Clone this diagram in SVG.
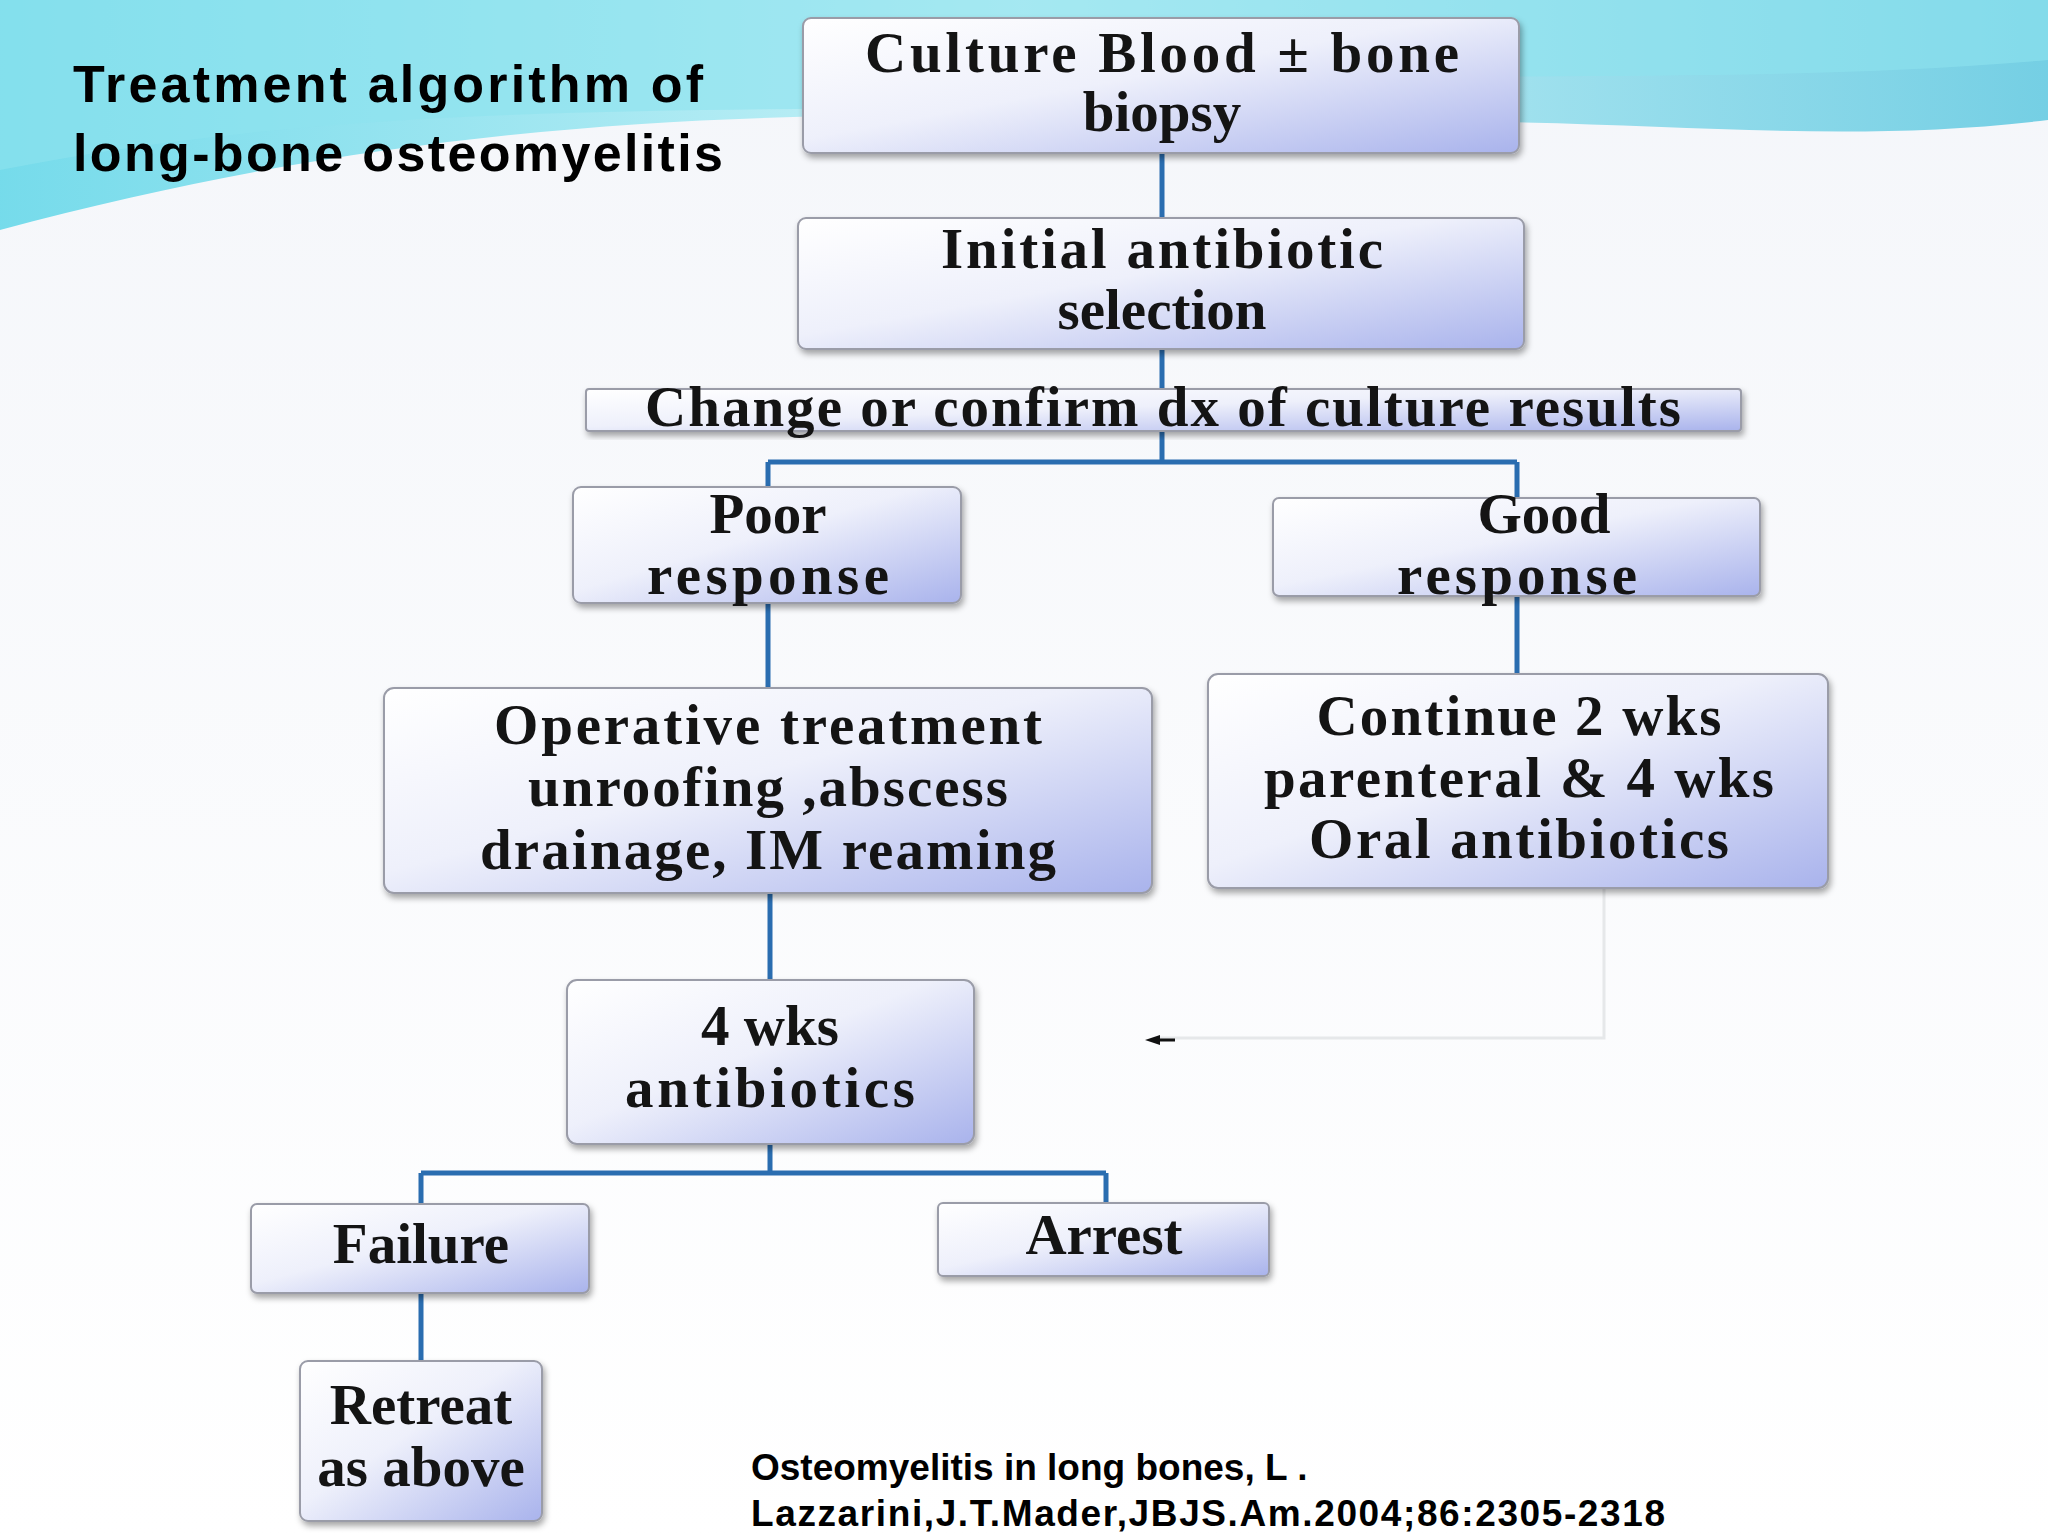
<svg xmlns="http://www.w3.org/2000/svg" width="2048" height="1536" viewBox="0 0 2048 1536">
<defs>
<linearGradient id="bg" x1="0" y1="0" x2="0" y2="1"><stop offset="0" stop-color="#f4f6fa"/><stop offset="1" stop-color="#ffffff"/></linearGradient>
<linearGradient id="sw" x1="0" y1="0" x2="1" y2="0"><stop offset="0" stop-color="#5fd6e8"/><stop offset="0.5" stop-color="#bff0f6"/><stop offset="1" stop-color="#5ec8e0"/></linearGradient>
<linearGradient id="box" x1="0" y1="0" x2="1" y2="1"><stop offset="0" stop-color="#ffffff"/><stop offset="0.45" stop-color="#eef0fb"/><stop offset="1" stop-color="#a9b3ec"/></linearGradient>
<filter id="sh" x="-5%" y="-10%" width="110%" height="130%"><feDropShadow dx="2" dy="4" stdDeviation="3" flood-color="#000" flood-opacity="0.35"/></filter>
</defs>
<style>
.b{fill:url(#box);stroke:#9a9ca8;stroke-width:2;filter:url(#sh)}
.t{font-family:"Liberation Serif",serif;font-weight:bold;font-size:57px;fill:#141414;text-anchor:middle}
.c{stroke:#2a6db0;stroke-width:5;fill:none}
.s{font-family:"Liberation Sans",Arial,sans-serif;font-weight:bold;fill:#000}
</style>
<rect width="2048" height="1536" fill="url(#bg)"/>
<path d="M0,0 H2048 V120 C1800,150 1600,110 1300,125 C900,110 500,95 0,230 Z" fill="url(#sw)" opacity="0.85"/>
<path d="M0,0 H2048 V60 C1700,90 1400,60 1100,100 C800,120 400,90 0,170 Z" fill="#8ee2ef" opacity="0.6"/>
<text class="s" x="73" y="102" font-size="52" textLength="630">Treatment  algorithm  of</text>
<text class="s" x="73" y="171" font-size="52" textLength="650">long-bone osteomyelitis</text>
<g id="connectors">
<path class="c" d="M1162,153 V218 M1162,349 V389 M1162,431 V462 M768,462 H1517 M768,462 V487 M1517,462 V498 M768,603 V688 M1517,596 V674 M770,893 V980 M770,1144 V1173 M421,1173 H1106 M421,1173 V1204 M1106,1173 V1203 M421,1293 V1361"/>
<path d="M1604,888 V1038 H1160" stroke="#e6e8ea" stroke-width="3" fill="none"/>
<path d="M1175,1040 H1158" stroke="#111" stroke-width="3"/>
<polygon points="1145,1040 1160,1035 1160,1045" fill="#111"/>
</g>
<g id="n1"><rect class="b" x="803" y="18" width="716" height="135" rx="8"/><text class="t" x="1162" y="72" textLength="594">Culture   Blood ± bone</text><text class="t" x="1162" y="131">biopsy</text></g>
<g id="n2"><rect class="b" x="798" y="218" width="726" height="131" rx="8"/><text class="t" x="1162" y="268" textLength="442">Initial antibiotic</text><text class="t" x="1162" y="329">selection</text></g>
<g id="n3"><rect class="b" x="586" y="389" width="1155" height="42" rx="3"/><text class="t" x="1163" y="426" textLength="1036">Change or confirm dx of culture results</text></g>
<g id="n4"><rect class="b" x="573" y="487" width="388" height="116" rx="8"/><text class="t" x="768" y="533">Poor</text><text class="t" x="768" y="594" textLength="242">response</text></g>
<g id="n5"><rect class="b" x="1273" y="498" width="487" height="98" rx="6"/><text class="t" x="1544" y="533">Good</text><text class="t" x="1517" y="594" textLength="240">response</text></g>
<g id="n6"><rect class="b" x="384" y="688" width="768" height="205" rx="10"/><text class="t" x="768" y="744" textLength="548">Operative treatment</text><text class="t" x="768" y="806" textLength="480">unroofing ,abscess</text><text class="t" x="768" y="869" textLength="576">drainage, IM reaming</text></g>
<g id="n7"><rect class="b" x="1208" y="674" width="620" height="214" rx="10"/><text class="t" x="1519" y="735" textLength="405">Continue 2 wks</text><text class="t" x="1519" y="797" textLength="510">parenteral  &amp; 4 wks</text><text class="t" x="1519" y="858" textLength="420">Oral antibiotics</text></g>
<g id="n8"><rect class="b" x="567" y="980" width="407" height="164" rx="10"/><text class="t" x="770" y="1045">4 wks</text><text class="t" x="770" y="1107" textLength="290">antibiotics</text></g>
<g id="n9"><rect class="b" x="251" y="1204" width="338" height="89" rx="6"/><text class="t" x="421" y="1263" font-size="50">Failure</text></g>
<g id="n10"><rect class="b" x="938" y="1203" width="331" height="73" rx="5"/><text class="t" x="1104" y="1254" font-size="50">Arrest</text></g>
<g id="n11"><rect class="b" x="300" y="1361" width="242" height="160" rx="8"/><text class="t" x="421" y="1424" font-size="46">Retreat</text><text class="t" x="421" y="1486" font-size="46">as above</text></g>
<text class="s" x="751" y="1480" font-size="37">Osteomyelitis in long bones, L .</text>
<text class="s" x="751" y="1526" font-size="37" textLength="914">Lazzarini,J.T.Mader,JBJS.Am.2004;86:2305-2318</text>
</svg>
